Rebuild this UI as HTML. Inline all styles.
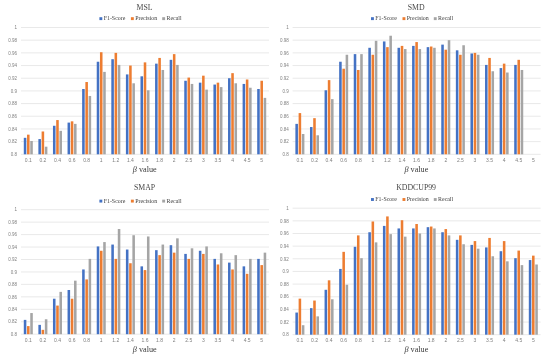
<!DOCTYPE html>
<html><head><meta charset="utf-8"><title>beta value charts</title>
<style>
html,body{margin:0;padding:0;background:#fff;}
body{width:550px;height:356px;overflow:hidden;}
svg{display:block;}
.g{stroke:#E7E7E7;stroke-width:0.9;}
.b{fill:#4472C4;}
.o{fill:#ED7D31;}
.r{fill:#A5A5A5;}
text{font-family:"Liberation Sans",Arial,sans-serif;fill:#595959;}
.yl{font-size:4.5px;text-anchor:end;fill:#808080;}
.xl{font-size:5px;text-anchor:middle;fill:#808080;}
.t{font-family:"Liberation Serif","Times New Roman",serif;font-size:7.8px;text-anchor:middle;fill:#484848;}
.lg{font-family:"Liberation Serif","Times New Roman",serif;font-size:5.9px;fill:#404040;}
.at{font-family:"Liberation Serif","Times New Roman",serif;font-size:8.2px;text-anchor:middle;fill:#3a3a3a;}
</style></head>
<body>
<svg width="550" height="356" viewBox="0 0 550 356">
<rect width="550" height="356" fill="#fff"/>
<line x1="21" y1="154.3" x2="269" y2="154.3" class="g"/>
<text x="17.1" y="156" class="yl">0.8</text>
<line x1="21" y1="141.62" x2="269" y2="141.62" class="g"/>
<text x="17.1" y="143.32" class="yl">0.82</text>
<line x1="21" y1="128.94" x2="269" y2="128.94" class="g"/>
<text x="17.1" y="130.64" class="yl">0.84</text>
<line x1="21" y1="116.26" x2="269" y2="116.26" class="g"/>
<text x="17.1" y="117.96" class="yl">0.86</text>
<line x1="21" y1="103.58" x2="269" y2="103.58" class="g"/>
<text x="17.1" y="105.28" class="yl">0.88</text>
<line x1="21" y1="90.9" x2="269" y2="90.9" class="g"/>
<text x="17.1" y="92.6" class="yl">0.9</text>
<line x1="21" y1="78.22" x2="269" y2="78.22" class="g"/>
<text x="17.1" y="79.92" class="yl">0.92</text>
<line x1="21" y1="65.54" x2="269" y2="65.54" class="g"/>
<text x="17.1" y="67.24" class="yl">0.94</text>
<line x1="21" y1="52.86" x2="269" y2="52.86" class="g"/>
<text x="17.1" y="54.56" class="yl">0.96</text>
<line x1="21" y1="40.18" x2="269" y2="40.18" class="g"/>
<text x="17.1" y="41.88" class="yl">0.98</text>
<line x1="21" y1="27.5" x2="269" y2="27.5" class="g"/>
<text x="17.1" y="29.2" class="yl">1</text>
<rect x="23.79" y="137.82" width="2.55" height="16.48" class="b"/>
<rect x="27.02" y="134.65" width="2.55" height="19.65" class="o"/>
<rect x="30.25" y="140.99" width="2.55" height="13.31" class="r"/>
<text x="28.29" y="161.8" class="xl">0.1</text>
<rect x="38.38" y="139.08" width="2.55" height="15.22" class="b"/>
<rect x="41.61" y="131.48" width="2.55" height="22.82" class="o"/>
<rect x="44.84" y="146.69" width="2.55" height="7.61" class="r"/>
<text x="42.88" y="161.8" class="xl">0.2</text>
<rect x="52.96" y="125.77" width="2.55" height="28.53" class="b"/>
<rect x="56.2" y="120.06" width="2.55" height="34.24" class="o"/>
<rect x="59.43" y="130.84" width="2.55" height="23.46" class="r"/>
<text x="57.47" y="161.8" class="xl">0.4</text>
<rect x="67.55" y="122.6" width="2.55" height="31.7" class="b"/>
<rect x="70.79" y="121.33" width="2.55" height="32.97" class="o"/>
<rect x="74.02" y="123.87" width="2.55" height="30.43" class="r"/>
<text x="72.06" y="161.8" class="xl">0.6</text>
<rect x="82.14" y="89" width="2.55" height="65.3" class="b"/>
<rect x="85.37" y="82.02" width="2.55" height="72.28" class="o"/>
<rect x="88.61" y="95.97" width="2.55" height="58.33" class="r"/>
<text x="86.65" y="161.8" class="xl">0.8</text>
<rect x="96.73" y="61.74" width="2.55" height="92.56" class="b"/>
<rect x="99.96" y="52.23" width="2.55" height="102.07" class="o"/>
<rect x="103.2" y="71.88" width="2.55" height="82.42" class="r"/>
<text x="101.24" y="161.8" class="xl">1</text>
<rect x="111.32" y="59.2" width="2.55" height="95.1" class="b"/>
<rect x="114.55" y="52.86" width="2.55" height="101.44" class="o"/>
<rect x="117.78" y="64.91" width="2.55" height="89.39" class="r"/>
<text x="115.82" y="161.8" class="xl">1.2</text>
<rect x="125.91" y="74.42" width="2.55" height="79.88" class="b"/>
<rect x="129.14" y="65.54" width="2.55" height="88.76" class="o"/>
<rect x="132.37" y="83.29" width="2.55" height="71.01" class="r"/>
<text x="130.41" y="161.8" class="xl">1.4</text>
<rect x="140.49" y="76.32" width="2.55" height="77.98" class="b"/>
<rect x="143.73" y="62.37" width="2.55" height="91.93" class="o"/>
<rect x="146.96" y="90.27" width="2.55" height="64.03" class="r"/>
<text x="145" y="161.8" class="xl">1.6</text>
<rect x="155.08" y="63.64" width="2.55" height="90.66" class="b"/>
<rect x="158.32" y="57.93" width="2.55" height="96.37" class="o"/>
<rect x="161.55" y="69.98" width="2.55" height="84.32" class="r"/>
<text x="159.59" y="161.8" class="xl">1.8</text>
<rect x="169.67" y="59.83" width="2.55" height="94.47" class="b"/>
<rect x="172.9" y="54.13" width="2.55" height="100.17" class="o"/>
<rect x="176.14" y="64.91" width="2.55" height="89.39" class="r"/>
<text x="174.18" y="161.8" class="xl">2</text>
<rect x="184.26" y="80.76" width="2.55" height="73.54" class="b"/>
<rect x="187.49" y="77.59" width="2.55" height="76.71" class="o"/>
<rect x="190.73" y="83.93" width="2.55" height="70.37" class="r"/>
<text x="188.76" y="161.8" class="xl">2.5</text>
<rect x="198.85" y="82.66" width="2.55" height="71.64" class="b"/>
<rect x="202.08" y="75.68" width="2.55" height="78.62" class="o"/>
<rect x="205.31" y="89.63" width="2.55" height="64.67" class="r"/>
<text x="203.35" y="161.8" class="xl">3</text>
<rect x="213.43" y="84.56" width="2.55" height="69.74" class="b"/>
<rect x="216.67" y="82.66" width="2.55" height="71.64" class="o"/>
<rect x="219.9" y="87.1" width="2.55" height="67.2" class="r"/>
<text x="217.94" y="161.8" class="xl">3.5</text>
<rect x="228.02" y="78.22" width="2.55" height="76.08" class="b"/>
<rect x="231.26" y="73.15" width="2.55" height="81.15" class="o"/>
<rect x="234.49" y="83.29" width="2.55" height="71.01" class="r"/>
<text x="232.53" y="161.8" class="xl">4</text>
<rect x="242.61" y="83.93" width="2.55" height="70.37" class="b"/>
<rect x="245.84" y="79.49" width="2.55" height="74.81" class="o"/>
<rect x="249.08" y="87.73" width="2.55" height="66.57" class="r"/>
<text x="247.12" y="161.8" class="xl">4.5</text>
<rect x="257.2" y="89" width="2.55" height="65.3" class="b"/>
<rect x="260.43" y="80.76" width="2.55" height="73.54" class="o"/>
<rect x="263.67" y="97.87" width="2.55" height="56.43" class="r"/>
<text x="261.71" y="161.8" class="xl">5</text>
<text x="144.5" y="9.8" class="t">MSL</text>
<rect x="99.4" y="17.2" width="2.9" height="2.9" class="b"/>
<text x="103.7" y="20.15" class="lg">F1-Score</text>
<rect x="130.9" y="17.2" width="2.9" height="2.9" class="o"/>
<text x="135.2" y="20.15" class="lg">Precision</text>
<rect x="162.2" y="17.2" width="2.9" height="2.9" class="r"/>
<text x="166.5" y="20.15" class="lg">Recall</text>
<text x="144.8" y="172.1" class="at"><tspan font-style="italic">&#946;</tspan> value</text>
<line x1="292.6" y1="154.3" x2="540.6" y2="154.3" class="g"/>
<text x="288.7" y="156" class="yl">0.8</text>
<line x1="292.6" y1="141.62" x2="540.6" y2="141.62" class="g"/>
<text x="288.7" y="143.32" class="yl">0.82</text>
<line x1="292.6" y1="128.94" x2="540.6" y2="128.94" class="g"/>
<text x="288.7" y="130.64" class="yl">0.84</text>
<line x1="292.6" y1="116.26" x2="540.6" y2="116.26" class="g"/>
<text x="288.7" y="117.96" class="yl">0.86</text>
<line x1="292.6" y1="103.58" x2="540.6" y2="103.58" class="g"/>
<text x="288.7" y="105.28" class="yl">0.88</text>
<line x1="292.6" y1="90.9" x2="540.6" y2="90.9" class="g"/>
<text x="288.7" y="92.6" class="yl">0.9</text>
<line x1="292.6" y1="78.22" x2="540.6" y2="78.22" class="g"/>
<text x="288.7" y="79.92" class="yl">0.92</text>
<line x1="292.6" y1="65.54" x2="540.6" y2="65.54" class="g"/>
<text x="288.7" y="67.24" class="yl">0.94</text>
<line x1="292.6" y1="52.86" x2="540.6" y2="52.86" class="g"/>
<text x="288.7" y="54.56" class="yl">0.96</text>
<line x1="292.6" y1="40.18" x2="540.6" y2="40.18" class="g"/>
<text x="288.7" y="41.88" class="yl">0.98</text>
<line x1="292.6" y1="27.5" x2="540.6" y2="27.5" class="g"/>
<text x="288.7" y="29.2" class="yl">1</text>
<rect x="295.39" y="123.87" width="2.55" height="30.43" class="b"/>
<rect x="298.62" y="113.09" width="2.55" height="41.21" class="o"/>
<rect x="301.85" y="134.01" width="2.55" height="20.29" class="r"/>
<text x="299.89" y="161.8" class="xl">0.1</text>
<rect x="309.98" y="127.04" width="2.55" height="27.26" class="b"/>
<rect x="313.21" y="118.16" width="2.55" height="36.14" class="o"/>
<rect x="316.44" y="135.28" width="2.55" height="19.02" class="r"/>
<text x="314.48" y="161.8" class="xl">0.2</text>
<rect x="324.56" y="90.27" width="2.55" height="64.03" class="b"/>
<rect x="327.8" y="80.12" width="2.55" height="74.18" class="o"/>
<rect x="331.03" y="99.14" width="2.55" height="55.16" class="r"/>
<text x="329.07" y="161.8" class="xl">0.4</text>
<rect x="339.15" y="61.74" width="2.55" height="92.56" class="b"/>
<rect x="342.39" y="68.71" width="2.55" height="85.59" class="o"/>
<rect x="345.62" y="54.76" width="2.55" height="99.54" class="r"/>
<text x="343.66" y="161.8" class="xl">0.6</text>
<rect x="353.74" y="54.13" width="2.55" height="100.17" class="b"/>
<rect x="356.97" y="69.98" width="2.55" height="84.32" class="o"/>
<rect x="360.21" y="54.13" width="2.55" height="100.17" class="r"/>
<text x="358.25" y="161.8" class="xl">0.8</text>
<rect x="368.33" y="47.79" width="2.55" height="106.51" class="b"/>
<rect x="371.56" y="54.76" width="2.55" height="99.54" class="o"/>
<rect x="374.8" y="40.81" width="2.55" height="113.49" class="r"/>
<text x="372.84" y="161.8" class="xl">1</text>
<rect x="382.92" y="41.45" width="2.55" height="112.85" class="b"/>
<rect x="386.15" y="47.15" width="2.55" height="107.15" class="o"/>
<rect x="389.38" y="35.74" width="2.55" height="118.56" class="r"/>
<text x="387.42" y="161.8" class="xl">1.2</text>
<rect x="397.51" y="47.79" width="2.55" height="106.51" class="b"/>
<rect x="400.74" y="45.89" width="2.55" height="108.41" class="o"/>
<rect x="403.97" y="49.06" width="2.55" height="105.24" class="r"/>
<text x="402.01" y="161.8" class="xl">1.4</text>
<rect x="412.09" y="45.89" width="2.55" height="108.41" class="b"/>
<rect x="415.33" y="42.08" width="2.55" height="112.22" class="o"/>
<rect x="418.56" y="49.06" width="2.55" height="105.24" class="r"/>
<text x="416.6" y="161.8" class="xl">1.6</text>
<rect x="426.68" y="47.15" width="2.55" height="107.15" class="b"/>
<rect x="429.92" y="46.52" width="2.55" height="107.78" class="o"/>
<rect x="433.15" y="47.79" width="2.55" height="106.51" class="r"/>
<text x="431.19" y="161.8" class="xl">1.8</text>
<rect x="441.27" y="44.62" width="2.55" height="109.68" class="b"/>
<rect x="444.5" y="49.69" width="2.55" height="104.61" class="o"/>
<rect x="447.74" y="40.18" width="2.55" height="114.12" class="r"/>
<text x="445.78" y="161.8" class="xl">2</text>
<rect x="455.86" y="50.32" width="2.55" height="103.98" class="b"/>
<rect x="459.09" y="54.76" width="2.55" height="99.54" class="o"/>
<rect x="462.33" y="45.25" width="2.55" height="109.05" class="r"/>
<text x="460.36" y="161.8" class="xl">2.5</text>
<rect x="470.45" y="53.49" width="2.55" height="100.81" class="b"/>
<rect x="473.68" y="52.86" width="2.55" height="101.44" class="o"/>
<rect x="476.91" y="54.76" width="2.55" height="99.54" class="r"/>
<text x="474.95" y="161.8" class="xl">3</text>
<rect x="485.03" y="64.91" width="2.55" height="89.39" class="b"/>
<rect x="488.27" y="57.93" width="2.55" height="96.37" class="o"/>
<rect x="491.5" y="71.25" width="2.55" height="83.05" class="r"/>
<text x="489.54" y="161.8" class="xl">3.5</text>
<rect x="499.62" y="68.08" width="2.55" height="86.22" class="b"/>
<rect x="502.86" y="63.64" width="2.55" height="90.66" class="o"/>
<rect x="506.09" y="72.51" width="2.55" height="81.79" class="r"/>
<text x="504.13" y="161.8" class="xl">4</text>
<rect x="514.21" y="64.91" width="2.55" height="89.39" class="b"/>
<rect x="517.44" y="59.83" width="2.55" height="94.47" class="o"/>
<rect x="520.68" y="69.98" width="2.55" height="84.32" class="r"/>
<text x="518.72" y="161.8" class="xl">4.5</text>
<text x="533.31" y="161.8" class="xl">5</text>
<text x="416.1" y="9.8" class="t">SMD</text>
<rect x="371" y="17.2" width="2.9" height="2.9" class="b"/>
<text x="375.3" y="20.15" class="lg">F1-Score</text>
<rect x="402.5" y="17.2" width="2.9" height="2.9" class="o"/>
<text x="406.8" y="20.15" class="lg">Precision</text>
<rect x="433.8" y="17.2" width="2.9" height="2.9" class="r"/>
<text x="438.1" y="20.15" class="lg">Recall</text>
<text x="416.4" y="172.1" class="at"><tspan font-style="italic">&#946;</tspan> value</text>
<line x1="21" y1="334.2" x2="269" y2="334.2" class="g"/>
<text x="17.1" y="335.9" class="yl">0.8</text>
<line x1="21" y1="321.75" x2="269" y2="321.75" class="g"/>
<text x="17.1" y="323.45" class="yl">0.82</text>
<line x1="21" y1="309.3" x2="269" y2="309.3" class="g"/>
<text x="17.1" y="311" class="yl">0.84</text>
<line x1="21" y1="296.85" x2="269" y2="296.85" class="g"/>
<text x="17.1" y="298.55" class="yl">0.86</text>
<line x1="21" y1="284.4" x2="269" y2="284.4" class="g"/>
<text x="17.1" y="286.1" class="yl">0.88</text>
<line x1="21" y1="271.95" x2="269" y2="271.95" class="g"/>
<text x="17.1" y="273.65" class="yl">0.9</text>
<line x1="21" y1="259.5" x2="269" y2="259.5" class="g"/>
<text x="17.1" y="261.2" class="yl">0.92</text>
<line x1="21" y1="247.05" x2="269" y2="247.05" class="g"/>
<text x="17.1" y="248.75" class="yl">0.94</text>
<line x1="21" y1="234.6" x2="269" y2="234.6" class="g"/>
<text x="17.1" y="236.3" class="yl">0.96</text>
<line x1="21" y1="222.15" x2="269" y2="222.15" class="g"/>
<text x="17.1" y="223.85" class="yl">0.98</text>
<line x1="21" y1="209.7" x2="269" y2="209.7" class="g"/>
<text x="17.1" y="211.4" class="yl">1</text>
<rect x="23.79" y="319.88" width="2.55" height="14.32" class="b"/>
<rect x="27.02" y="326.11" width="2.55" height="8.09" class="o"/>
<rect x="30.25" y="313.04" width="2.55" height="21.16" class="r"/>
<text x="28.29" y="341.8" class="xl">0.1</text>
<rect x="38.38" y="324.86" width="2.55" height="9.34" class="b"/>
<rect x="41.61" y="329.84" width="2.55" height="4.36" class="o"/>
<rect x="44.84" y="319.26" width="2.55" height="14.94" class="r"/>
<text x="42.88" y="341.8" class="xl">0.2</text>
<rect x="52.96" y="298.72" width="2.55" height="35.48" class="b"/>
<rect x="56.2" y="305.57" width="2.55" height="28.63" class="o"/>
<rect x="59.43" y="291.87" width="2.55" height="42.33" class="r"/>
<text x="57.47" y="341.8" class="xl">0.4</text>
<rect x="67.55" y="290" width="2.55" height="44.2" class="b"/>
<rect x="70.79" y="298.72" width="2.55" height="35.48" class="o"/>
<rect x="74.02" y="280.67" width="2.55" height="53.53" class="r"/>
<text x="72.06" y="341.8" class="xl">0.6</text>
<rect x="82.14" y="269.46" width="2.55" height="64.74" class="b"/>
<rect x="85.37" y="279.42" width="2.55" height="54.78" class="o"/>
<rect x="88.61" y="258.88" width="2.55" height="75.32" class="r"/>
<text x="86.65" y="341.8" class="xl">0.8</text>
<rect x="96.73" y="246.43" width="2.55" height="87.77" class="b"/>
<rect x="99.96" y="250.78" width="2.55" height="83.42" class="o"/>
<rect x="103.2" y="242.07" width="2.55" height="92.13" class="r"/>
<text x="101.24" y="341.8" class="xl">1</text>
<rect x="111.32" y="244.56" width="2.55" height="89.64" class="b"/>
<rect x="114.55" y="258.88" width="2.55" height="75.32" class="o"/>
<rect x="117.78" y="229" width="2.55" height="105.2" class="r"/>
<text x="115.82" y="341.8" class="xl">1.2</text>
<rect x="125.91" y="249.54" width="2.55" height="84.66" class="b"/>
<rect x="129.14" y="263.24" width="2.55" height="70.96" class="o"/>
<rect x="132.37" y="235.22" width="2.55" height="98.98" class="r"/>
<text x="130.41" y="341.8" class="xl">1.4</text>
<rect x="140.49" y="266.35" width="2.55" height="67.85" class="b"/>
<rect x="143.73" y="270.08" width="2.55" height="64.12" class="o"/>
<rect x="146.96" y="236.47" width="2.55" height="97.73" class="r"/>
<text x="145" y="341.8" class="xl">1.6</text>
<rect x="155.08" y="250.16" width="2.55" height="84.04" class="b"/>
<rect x="158.32" y="255.14" width="2.55" height="79.06" class="o"/>
<rect x="161.55" y="244.56" width="2.55" height="89.64" class="r"/>
<text x="159.59" y="341.8" class="xl">1.8</text>
<rect x="169.67" y="245.18" width="2.55" height="89.02" class="b"/>
<rect x="172.9" y="252.65" width="2.55" height="81.55" class="o"/>
<rect x="176.14" y="238.34" width="2.55" height="95.86" class="r"/>
<text x="174.18" y="341.8" class="xl">2</text>
<rect x="184.26" y="253.9" width="2.55" height="80.3" class="b"/>
<rect x="187.49" y="258.88" width="2.55" height="75.32" class="o"/>
<rect x="190.73" y="248.3" width="2.55" height="85.9" class="r"/>
<text x="188.76" y="341.8" class="xl">2.5</text>
<rect x="198.85" y="250.78" width="2.55" height="83.42" class="b"/>
<rect x="202.08" y="253.9" width="2.55" height="80.3" class="o"/>
<rect x="205.31" y="246.43" width="2.55" height="87.77" class="r"/>
<text x="203.35" y="341.8" class="xl">3</text>
<rect x="213.43" y="258.88" width="2.55" height="75.32" class="b"/>
<rect x="216.67" y="264.48" width="2.55" height="69.72" class="o"/>
<rect x="219.9" y="253.27" width="2.55" height="80.92" class="r"/>
<text x="217.94" y="341.8" class="xl">3.5</text>
<rect x="228.02" y="262.61" width="2.55" height="71.59" class="b"/>
<rect x="231.26" y="269.46" width="2.55" height="64.74" class="o"/>
<rect x="234.49" y="255.14" width="2.55" height="79.06" class="r"/>
<text x="232.53" y="341.8" class="xl">4</text>
<rect x="242.61" y="266.35" width="2.55" height="67.85" class="b"/>
<rect x="245.84" y="273.82" width="2.55" height="60.38" class="o"/>
<rect x="249.08" y="258.88" width="2.55" height="75.32" class="r"/>
<text x="247.12" y="341.8" class="xl">4.5</text>
<rect x="257.2" y="258.88" width="2.55" height="75.32" class="b"/>
<rect x="260.43" y="265.1" width="2.55" height="69.1" class="o"/>
<rect x="263.67" y="252.65" width="2.55" height="81.55" class="r"/>
<text x="261.71" y="341.8" class="xl">5</text>
<text x="144.5" y="190.4" class="t">SMAP</text>
<rect x="99.4" y="199.65" width="2.9" height="2.9" class="b"/>
<text x="103.7" y="202.6" class="lg">F1-Score</text>
<rect x="130.9" y="199.65" width="2.9" height="2.9" class="o"/>
<text x="135.2" y="202.6" class="lg">Precision</text>
<rect x="162.2" y="199.65" width="2.9" height="2.9" class="r"/>
<text x="166.5" y="202.6" class="lg">Recall</text>
<text x="144.8" y="352" class="at"><tspan font-style="italic">&#946;</tspan> value</text>
<line x1="292.6" y1="334.7" x2="540.6" y2="334.7" class="g"/>
<text x="288.7" y="336.4" class="yl">0.8</text>
<line x1="292.6" y1="322.05" x2="540.6" y2="322.05" class="g"/>
<text x="288.7" y="323.75" class="yl">0.82</text>
<line x1="292.6" y1="309.4" x2="540.6" y2="309.4" class="g"/>
<text x="288.7" y="311.1" class="yl">0.84</text>
<line x1="292.6" y1="296.75" x2="540.6" y2="296.75" class="g"/>
<text x="288.7" y="298.45" class="yl">0.86</text>
<line x1="292.6" y1="284.1" x2="540.6" y2="284.1" class="g"/>
<text x="288.7" y="285.8" class="yl">0.88</text>
<line x1="292.6" y1="271.45" x2="540.6" y2="271.45" class="g"/>
<text x="288.7" y="273.15" class="yl">0.9</text>
<line x1="292.6" y1="258.8" x2="540.6" y2="258.8" class="g"/>
<text x="288.7" y="260.5" class="yl">0.92</text>
<line x1="292.6" y1="246.15" x2="540.6" y2="246.15" class="g"/>
<text x="288.7" y="247.85" class="yl">0.94</text>
<line x1="292.6" y1="233.5" x2="540.6" y2="233.5" class="g"/>
<text x="288.7" y="235.2" class="yl">0.96</text>
<line x1="292.6" y1="220.85" x2="540.6" y2="220.85" class="g"/>
<text x="288.7" y="222.55" class="yl">0.98</text>
<line x1="292.6" y1="208.2" x2="540.6" y2="208.2" class="g"/>
<text x="288.7" y="209.9" class="yl">1</text>
<rect x="295.39" y="312.56" width="2.55" height="22.14" class="b"/>
<rect x="298.62" y="298.65" width="2.55" height="36.05" class="o"/>
<rect x="301.85" y="325.21" width="2.55" height="9.49" class="r"/>
<text x="299.89" y="342.3" class="xl">0.1</text>
<rect x="309.98" y="308.14" width="2.55" height="26.56" class="b"/>
<rect x="313.21" y="300.55" width="2.55" height="34.15" class="o"/>
<rect x="316.44" y="316.36" width="2.55" height="18.34" class="r"/>
<text x="314.48" y="342.3" class="xl">0.2</text>
<rect x="324.56" y="289.79" width="2.55" height="44.91" class="b"/>
<rect x="327.8" y="280.31" width="2.55" height="54.39" class="o"/>
<rect x="331.03" y="299.28" width="2.55" height="35.42" class="r"/>
<text x="329.07" y="342.3" class="xl">0.4</text>
<rect x="339.15" y="268.92" width="2.55" height="65.78" class="b"/>
<rect x="342.39" y="251.84" width="2.55" height="82.86" class="o"/>
<rect x="345.62" y="284.73" width="2.55" height="49.97" class="r"/>
<text x="343.66" y="342.3" class="xl">0.6</text>
<rect x="353.74" y="246.78" width="2.55" height="87.92" class="b"/>
<rect x="356.97" y="235.4" width="2.55" height="99.3" class="o"/>
<rect x="360.21" y="258.17" width="2.55" height="76.53" class="r"/>
<text x="358.25" y="342.3" class="xl">0.8</text>
<rect x="368.33" y="232.24" width="2.55" height="102.46" class="b"/>
<rect x="371.56" y="221.48" width="2.55" height="113.22" class="o"/>
<rect x="374.8" y="242.36" width="2.55" height="92.34" class="r"/>
<text x="372.84" y="342.3" class="xl">1</text>
<rect x="382.92" y="225.91" width="2.55" height="108.79" class="b"/>
<rect x="386.15" y="216.42" width="2.55" height="118.28" class="o"/>
<rect x="389.38" y="234.13" width="2.55" height="100.57" class="r"/>
<text x="387.42" y="342.3" class="xl">1.2</text>
<rect x="397.51" y="228.44" width="2.55" height="106.26" class="b"/>
<rect x="400.74" y="220.22" width="2.55" height="114.48" class="o"/>
<rect x="403.97" y="236.66" width="2.55" height="98.04" class="r"/>
<text x="402.01" y="342.3" class="xl">1.4</text>
<rect x="412.09" y="228.44" width="2.55" height="106.26" class="b"/>
<rect x="415.33" y="224.01" width="2.55" height="110.69" class="o"/>
<rect x="418.56" y="233.5" width="2.55" height="101.2" class="r"/>
<text x="416.6" y="342.3" class="xl">1.6</text>
<rect x="426.68" y="227.18" width="2.55" height="107.52" class="b"/>
<rect x="429.92" y="226.54" width="2.55" height="108.16" class="o"/>
<rect x="433.15" y="228.44" width="2.55" height="106.26" class="r"/>
<text x="431.19" y="342.3" class="xl">1.8</text>
<rect x="441.27" y="232.24" width="2.55" height="102.46" class="b"/>
<rect x="444.5" y="229.07" width="2.55" height="105.63" class="o"/>
<rect x="447.74" y="235.4" width="2.55" height="99.3" class="r"/>
<text x="445.78" y="342.3" class="xl">2</text>
<rect x="455.86" y="239.83" width="2.55" height="94.87" class="b"/>
<rect x="459.09" y="235.4" width="2.55" height="99.3" class="o"/>
<rect x="462.33" y="244.25" width="2.55" height="90.45" class="r"/>
<text x="460.36" y="342.3" class="xl">2.5</text>
<rect x="470.45" y="244.89" width="2.55" height="89.81" class="b"/>
<rect x="473.68" y="241.09" width="2.55" height="93.61" class="o"/>
<rect x="476.91" y="248.68" width="2.55" height="86.02" class="r"/>
<text x="474.95" y="342.3" class="xl">3</text>
<rect x="485.03" y="247.42" width="2.55" height="87.28" class="b"/>
<rect x="488.27" y="237.93" width="2.55" height="96.77" class="o"/>
<rect x="491.5" y="256.27" width="2.55" height="78.43" class="r"/>
<text x="489.54" y="342.3" class="xl">3.5</text>
<rect x="499.62" y="251.21" width="2.55" height="83.49" class="b"/>
<rect x="502.86" y="241.09" width="2.55" height="93.61" class="o"/>
<rect x="506.09" y="261.33" width="2.55" height="73.37" class="r"/>
<text x="504.13" y="342.3" class="xl">4</text>
<rect x="514.21" y="258.17" width="2.55" height="76.53" class="b"/>
<rect x="517.44" y="250.58" width="2.55" height="84.12" class="o"/>
<rect x="520.68" y="265.12" width="2.55" height="69.57" class="r"/>
<text x="518.72" y="342.3" class="xl">4.5</text>
<rect x="528.8" y="260.06" width="2.55" height="74.63" class="b"/>
<rect x="532.03" y="255.64" width="2.55" height="79.06" class="o"/>
<rect x="535.27" y="264.49" width="2.55" height="70.21" class="r"/>
<text x="533.31" y="342.3" class="xl">5</text>
<text x="416.1" y="189.7" class="t">KDDCUP99</text>
<rect x="371" y="198.05" width="2.9" height="2.9" class="b"/>
<text x="375.3" y="201" class="lg">F1-Score</text>
<rect x="402.5" y="198.05" width="2.9" height="2.9" class="o"/>
<text x="406.8" y="201" class="lg">Precision</text>
<rect x="433.8" y="198.05" width="2.9" height="2.9" class="r"/>
<text x="438.1" y="201" class="lg">Recall</text>
<text x="416.4" y="352" class="at"><tspan font-style="italic">&#946;</tspan> value</text>
</svg>
</body></html>
